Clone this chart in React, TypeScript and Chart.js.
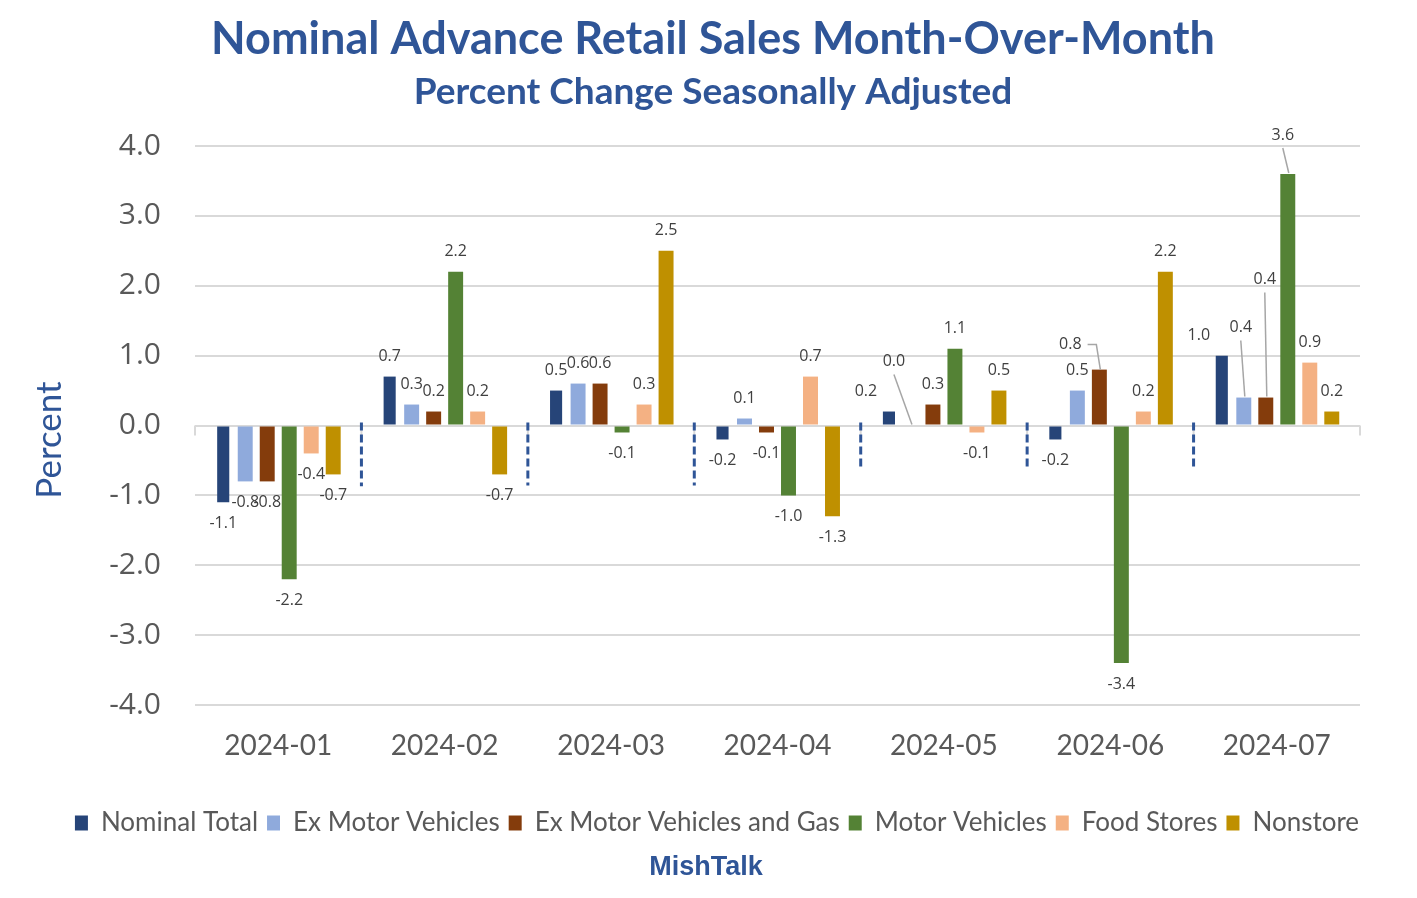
import React, { useEffect, useRef } from "react";
import { Chart, registerables } from "chart.js";

Chart.register(...registerables);

// ---- data ----
const months = ["2024-01", "2024-02", "2024-03", "2024-04", "2024-05", "2024-06", "2024-07"];
const nominalTotal = [-1.1, 0.7, 0.5, -0.2, 0.2, -0.2, 1.0];
const exMotorVehicles = [-0.8, 0.3, 0.6, 0.1, 0.0, 0.5, 0.4];
const exMotorVehiclesAndGas = [-0.8, 0.2, 0.6, -0.1, 0.3, 0.8, 0.4];
const motorVehicles = [-2.2, 2.2, -0.1, -1.0, 1.1, -3.4, 3.6];
const foodStores = [-0.4, 0.2, 0.3, 0.7, -0.1, 0.2, 0.9];
const nonstore = [-0.7, -0.7, 2.5, -1.3, 0.5, 2.2, 0.2];
// depth of the dashed separators drawn between months (in axis units)
const dividerDepths = [-0.87, -0.86, -0.86, -0.6, -0.6, -0.6];
const yMin = -4;
const yMax = 4;
const yStep = 1;

const seriesNames = [
  "Nominal Total",
  "Ex Motor Vehicles",
  "Ex Motor Vehicles and Gas",
  "Motor Vehicles",
  "Food Stores",
  "Nonstore",
];
const seriesColors = ["#264478", "#8FAADC", "#843C0C", "#548235", "#F4B183", "#BF9000"];

// manual nudges of a few data labels (pixels), some with leader lines
const labelNudges = [
  { series: "Nominal Total", month: "2024-05", dx: -23, dy: 0, leader: "none" },
  { series: "Nominal Total", month: "2024-07", dx: -23, dy: 0, leader: "none" },
  { series: "Ex Motor Vehicles", month: "2024-05", dx: -17, dy: -44, leader: "straight" },
  { series: "Ex Motor Vehicles and Gas", month: "2024-06", dx: -29, dy: -5, leader: "elbow" },
  { series: "Ex Motor Vehicles", month: "2024-07", dx: -3, dy: -50, leader: "straight" },
  { series: "Ex Motor Vehicles and Gas", month: "2024-07", dx: -1, dy: -98, leader: "straight" },
  { series: "Motor Vehicles", month: "2024-07", dx: -5, dy: -19, leader: "straight" },
];

const TITLE_COLOR = "#2F5597";

const decorPlugin = {
  id: "decor",
  beforeDraw(chart: any) {
    const { ctx, width, height } = chart;
    ctx.save();
    ctx.fillStyle = "#FFFFFF";
    ctx.fillRect(0, 0, width, height);
    ctx.restore();
  },
  afterDatasetsDraw(chart: any) {
    const { ctx } = chart;
    const xs = chart.scales.x;
    const ys = chart.scales.y;
    const y0 = ys.getPixelForValue(0);
    ctx.save();
    // small tick marks on the zero line at month boundaries
    ctx.strokeStyle = "#D9D9D9";
    ctx.lineWidth = 2;
    const step = xs.getPixelForValue(1) - xs.getPixelForValue(0);
    for (let i = 0; i <= months.length; i++) {
      const x = xs.getPixelForValue(0) - step / 2 + step * i;
      ctx.beginPath();
      ctx.moveTo(x, y0);
      ctx.lineTo(x, y0 + 10);
      ctx.stroke();
    }
    // dashed separators
    ctx.strokeStyle = "#2F5597";
    ctx.lineWidth = 3;
    ctx.setLineDash([8, 4]);
    dividerDepths.forEach((d, i) => {
      const x = (xs.getPixelForValue(i) + xs.getPixelForValue(i + 1)) / 2;
      ctx.beginPath();
      ctx.moveTo(x, y0 - 3);
      ctx.lineTo(x, ys.getPixelForValue(d));
      ctx.stroke();
    });
    ctx.setLineDash([]);

    // data labels
    ctx.font = "16px 'Open Sans'";
    ctx.textAlign = "center";
    ctx.textBaseline = "middle";
    chart.data.datasets.forEach((ds: any, di: number) => {
      const meta = chart.getDatasetMeta(di);
      meta.data.forEach((bar: any, i: number) => {
        const v = ds.data[i];
        let lx = bar.x;
        let ly = v >= 0 ? bar.y - 20 : bar.y + 21;
        const nudge = labelNudges.find((n) => n.series === ds.label && n.month === months[i]);
        const text = v.toFixed(1);
        if (nudge) {
          lx += nudge.dx;
          ly += nudge.dy;
          ctx.strokeStyle = "#A6A6A6";
          ctx.lineWidth = 1.5;
          if (nudge.leader === "straight") {
            ctx.beginPath();
            ctx.moveTo(lx, ly + 13);
            ctx.lineTo(bar.x + 1, bar.y - 1);
            ctx.stroke();
          } else if (nudge.leader === "elbow") {
            const tw = ctx.measureText(text).width;
            ctx.beginPath();
            ctx.moveTo(lx + tw / 2 + 6, ly);
            ctx.lineTo(bar.x - 3, ly);
            ctx.lineTo(bar.x + 1, bar.y);
            ctx.stroke();
          }
        }
        ctx.fillStyle = "#404040";
        ctx.fillText(text, lx, ly);
      });
    });
    ctx.restore();
  },
  afterDraw(chart: any) {
    const { ctx } = chart;
    ctx.save();
    ctx.fillStyle = TITLE_COLOR;
    ctx.textAlign = "center";
    ctx.textBaseline = "middle";
    ctx.font = "bold 45px Lato";
    ctx.fillText("Nominal Advance Retail Sales Month-Over-Month", 713, 39);
    ctx.font = "bold 37px Lato";
    ctx.fillText("Percent Change Seasonally Adjusted", 713, 92);
    ctx.font = "bold 27px 'Liberation Sans'";
    ctx.fillText("MishTalk", 706, 868);
    // y axis title
    ctx.translate(50, 440);
    ctx.rotate(-Math.PI / 2);
    ctx.font = "35px Lato";
    ctx.fillText("Percent", 0, 0);
    ctx.restore();
  },
};

export default function App() {
  const canvasRef = useRef<HTMLCanvasElement | null>(null);

  useEffect(() => {
    const canvas = canvasRef.current;
    if (!canvas) return;
    const seriesValues = [
      nominalTotal,
      exMotorVehicles,
      exMotorVehiclesAndGas,
      motorVehicles,
      foodStores,
      nonstore,
    ];
    const chart = new Chart(canvas, {
      type: "bar",
      data: {
        labels: months,
        datasets: seriesNames.map((name, i) => ({
          label: name,
          data: seriesValues[i],
          backgroundColor: seriesColors[i],
          borderWidth: 0,
          barPercentage: i === 0 ? 0.55 : 0.68,
          categoryPercentage: 0.793,
        })),
      },
      options: {
        responsive: false,
        animation: false,
        layout: { padding: { top: 146, left: 17, right: 0, bottom: 52 } },
        plugins: {
          title: { display: false },
          tooltip: { enabled: false },
          legend: {
            position: "bottom",
            labels: {
              boxWidth: 13,
              boxHeight: 15,
              padding: 9,
              color: "#595959",
              font: { family: "Lato", size: 26 },
            },
          },
        },
        scales: {
          x: {
            grid: { display: false, drawTicks: false },
            border: { display: false },
            ticks: {
              color: "#595959",
              font: { family: "Lato", size: 28 },
              padding: 24,
              maxRotation: 0,
            },
            afterFit: (s: any) => {
              s.height = 96;
            },
          },
          y: {
            min: yMin,
            max: yMax,
            ticks: {
              stepSize: yStep,
              callback: (v: any) => Number(v).toFixed(1),
              color: "#595959",
              font: { family: "Open Sans", size: 30 },
              padding: 34,
            },
            grid: { color: "#D9D9D9", lineWidth: 2, drawTicks: false },
            border: { display: false },
            afterFit: (s: any) => {
              s.width = 178;
            },
          },
          yRight: {
            type: "linear",
            position: "right",
            grid: { display: false, drawTicks: false },
            border: { display: false },
            ticks: { display: false },
            afterFit: (s: any) => {
              s.width = 57;
            },
          },
        },
      },
      plugins: [decorPlugin],
    });
    return () => chart.destroy();
  }, []);

  return (
    <div style={{ position: "fixed", left: 0, top: 0, width: 1417, height: 898, background: "#fff" }}>
      <canvas ref={canvasRef} width={1417} height={898} style={{ width: 1417, height: 898 }} />
    </div>
  );
}
